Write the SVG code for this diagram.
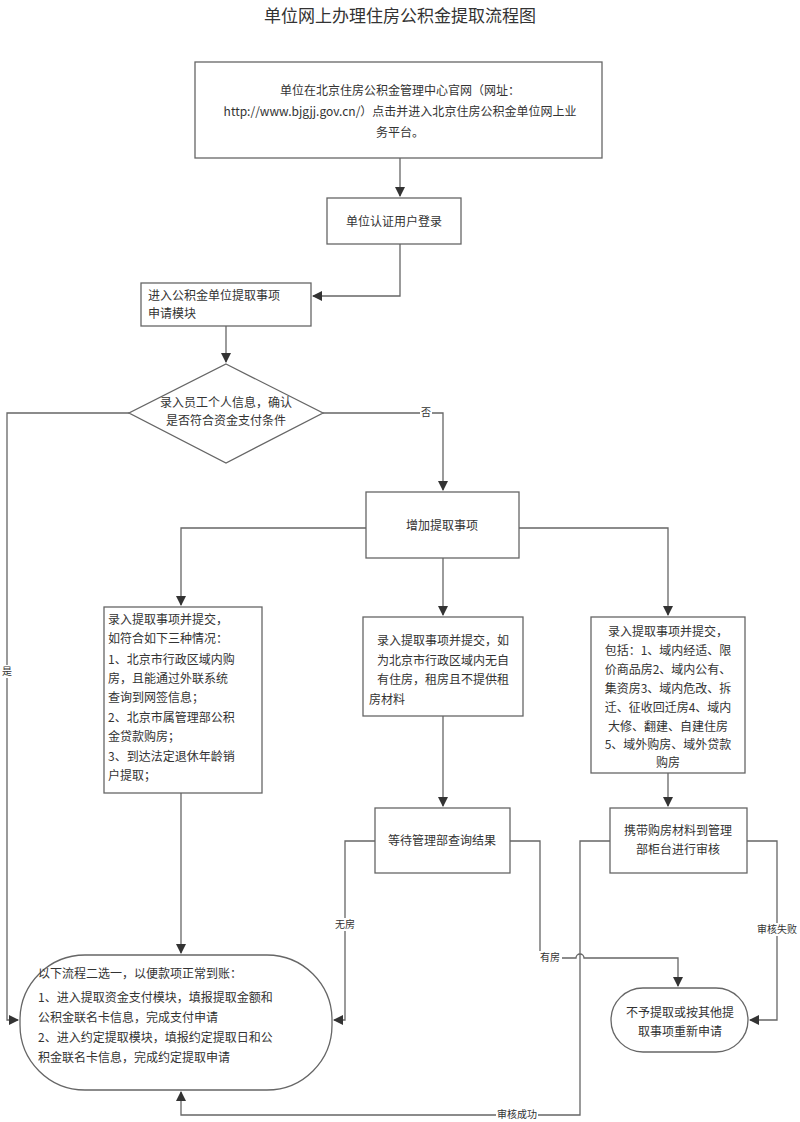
<svg xmlns="http://www.w3.org/2000/svg" width="800" height="1122" viewBox="0 0 800 1122">
<style>
text{font-family:"Noto Sans CJK SC","Liberation Sans",sans-serif;font-size:12px;fill:#333}
.t{font-size:17px}
.c{text-anchor:middle}
.l{font-size:10px}
.s{fill:#fff;stroke:#666;stroke-width:1.3}
.e{fill:none;stroke:#666;stroke-width:1.3}
</style>
<defs><marker id="a" markerWidth="10" markerHeight="10" refX="9" refY="5" orient="auto" markerUnits="userSpaceOnUse"><path d="M0,0L10,5L0,10z" fill="#333"/></marker></defs>
<rect width="800" height="1122" fill="#fff"/>
<text class="t c" x="400" y="22">单位网上办理住房公积金提取流程图</text>
<g id="connectors">
<path class="e" d="M400,158V196" marker-end="url(#a)"/>
<path class="e" d="M400,244V296H313" marker-end="url(#a)"/>
<path class="e" d="M226,326V362" marker-end="url(#a)"/>
<path class="e" d="M129,413H7V1020H18" marker-end="url(#a)"/>
<path class="e" d="M323,413H443V490" marker-end="url(#a)"/>
<path class="e" d="M366,528H181V605" marker-end="url(#a)"/>
<path class="e" d="M443,558V615" marker-end="url(#a)"/>
<path class="e" d="M519,528H668V615" marker-end="url(#a)"/>
<path class="e" d="M181,793V953" marker-end="url(#a)"/>
<path class="e" d="M443,716V806" marker-end="url(#a)"/>
<path class="e" d="M668,773V806" marker-end="url(#a)"/>
<path class="e" d="M375,841H345V1020H334" marker-end="url(#a)"/>
<path class="e" d="M510,841H540V958H576A4,4 0 0 1 584,958H678V986" marker-end="url(#a)"/>
<path class="e" d="M610,841H580V1115H181V1092" marker-end="url(#a)"/>
<path class="e" d="M747,841H777V1020H750" marker-end="url(#a)"/>
<rect x="420" y="406" width="12" height="13" fill="#fff"/><text class="l c" x="426" y="416">否</text>
<rect x="1" y="665" width="12" height="13" fill="#fff"/><text class="l c" x="7" y="675">是</text>
<rect x="334" y="918" width="22" height="13" fill="#fff"/><text class="l c" x="345" y="928">无房</text>
<rect x="538" y="951" width="24" height="13" fill="#fff"/><text class="l c" x="550" y="961">有房</text>
<rect x="496" y="1108" width="42" height="13" fill="#fff"/><text class="l c" x="517" y="1118">审核成功</text>
<rect x="756" y="923" width="42" height="13" fill="#fff"/><text class="l c" x="777" y="933">审核失败</text>
</g>
<g id="n1"><rect class="s" x="195" y="62" width="407" height="96"/>
<text class="c" x="400" y="95">单位在北京住房公积金管理中心官网（网址：</text>
<text class="c" x="400" y="116">http://www.bjgjj.gov.cn/）点击并进入北京住房公积金单位网上业</text>
<text class="c" x="400" y="137">务平台。</text></g>
<g id="n2"><rect class="s" x="327" y="198" width="134" height="46"/><text class="c" x="394" y="226">单位认证用户登录</text></g>
<g id="n3"><rect class="s" x="141" y="283" width="170" height="43"/><text x="148" y="300">进入公积金单位提取事项</text><text x="148" y="318">申请模块</text></g>
<g id="n4"><path class="s" d="M226,364L323,413L226,463L129,413Z"/><text class="c" x="226" y="407">录入员工个人信息，确认</text><text class="c" x="226" y="425">是否符合资金支付条件</text></g>
<g id="n5"><rect class="s" x="366" y="492" width="153" height="66"/><text class="c" x="442" y="530">增加提取事项</text></g>
<g id="n6"><rect class="s" x="104" y="607" width="158" height="186"/>
<text x="108" y="624">录入提取事项并提交，</text><text x="108" y="643">如符合如下三种情况：</text>
<text x="108" y="664">1、北京市行政区域内购</text><text x="108" y="683">房，且能通过外联系统</text>
<text x="108" y="702">查询到网签信息；</text><text x="108" y="722">2、北京市属管理部公积</text>
<text x="108" y="741">金贷款购房；</text><text x="108" y="761">3、到达法定退休年龄销</text><text x="108" y="780">户提取；</text></g>
<g id="n7"><rect class="s" x="363" y="617" width="160" height="99"/>
<text class="c" x="443" y="645">录入提取事项并提交，如</text><text class="c" x="443" y="665">为北京市行政区域内无自</text>
<text class="c" x="443" y="684">有住房，租房且不提供租</text><text x="369" y="704">房材料</text></g>
<g id="n8"><rect class="s" x="591" y="617" width="154" height="156"/>
<text class="c" x="668" y="636">录入提取事项并提交，</text><text class="c" x="668" y="655">包括：1、域内经适、限</text>
<text class="c" x="668" y="674">价商品房2、域内公有、</text><text class="c" x="668" y="693">集资房3、域内危改、拆</text>
<text class="c" x="668" y="712">迁、征收回迁房4、域内</text><text class="c" x="668" y="731">大修、翻建、自建住房</text>
<text class="c" x="668" y="749">5、域外购房、域外贷款</text><text class="c" x="668" y="767">购房</text></g>
<g id="n9"><rect class="s" x="375" y="808" width="135" height="65"/><text class="c" x="442" y="845">等待管理部查询结果</text></g>
<g id="n10"><rect class="s" x="610" y="808" width="137" height="65"/><text class="c" x="678" y="835">携带购房材料到管理</text><text class="c" x="678" y="854">部柜台进行审核</text></g>
<g id="n11"><rect class="s" x="611" y="988" width="137" height="64" rx="32"/><text class="c" x="680" y="1017">不予提取或按其他提</text><text class="c" x="680" y="1036">取事项重新申请</text></g>
<g id="n12"><rect class="s" x="20" y="955" width="312" height="135" rx="65"/>
<text x="38" y="978">以下流程二选一，以便款项正常到账：</text>
<text x="38" y="1002">1、进入提取资金支付模块，填报提取金额和</text>
<text x="38" y="1022">公积金联名卡信息，完成支付申请</text>
<text x="38" y="1042">2、进入约定提取模块，填报约定提取日和公</text>
<text x="38" y="1062">积金联名卡信息，完成约定提取申请</text></g>
</svg>
